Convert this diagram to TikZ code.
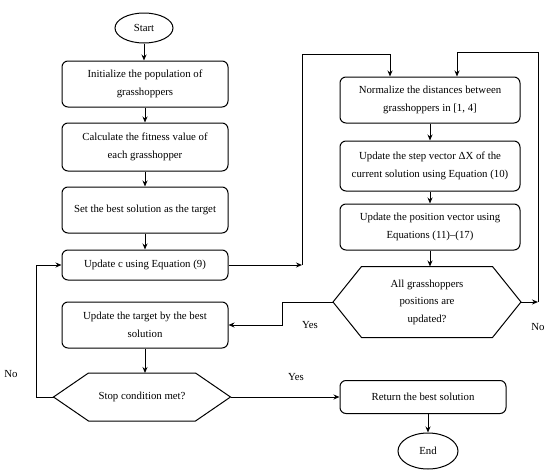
\documentclass[tikz,border=0pt]{standalone}
\usepackage{fontspec}
\setmainfont{Liberation Serif}
\usetikzlibrary{positioning,shapes,arrows,arrows.meta}

\tikzset{
  every box/.style={draw, rounded corners=6pt, align=center, inner sep=2pt,
    font=\fontsize{10.8}{18}\selectfont},
  every hex/.style={align=center, inner sep=0pt, font=\fontsize{10.8}{17.5}\selectfont},
  every term/.style={draw, ellipse, inner sep=0pt, font=\fontsize{10.8}{12}\selectfont},
  every label/.style={font=\fontsize{10.8}{12}\selectfont}
}

\begin{document}
\begin{tikzpicture}[x=1pt, y=-1pt, line width=1pt, >={Stealth[length=6pt,width=5pt]}]
    \useasboundingbox (0,0) rectangle (550,474);

    \node [every term/.try, minimum width=58pt, minimum height=30pt] (start) at (144,28) {Start};

    \foreach \t/\y/\h [count=\i] in {{Initialize the population of\\grasshoppers}/84/46,
        {Calculate the fitness value of\\each grasshopper}/147/48,
        {Set the best solution as the target}/210/46,
        {Update c using Equation (9)}/265/30,
        {Update the target by the best\\solution}/325/46}
      \node [every box/.try, minimum width=166pt, minimum height=\h pt] (left-\i) at (145,\y) {\t};

    \foreach \t/\y/\h [count=\i] in {{Normalize the distances between\\grasshoppers in [1, 4]}/100/46,
        {Update the step vector ΔX of the\\current solution using Equation (10)}/166/50,
        {Update the position vector using\\Equations (11)–(17)}/227/46}
      \node [every box/.try, minimum width=180pt, minimum height=\h pt] (right-\i) at (430,\y) {\t};

    \node [every hex/.try, minimum width=176pt, minimum height=47pt] (stop) at (142,397) {Stop condition met?};
    \node [every hex/.try, minimum width=187pt, minimum height=70pt] (all) at (427,302)
      {All grasshoppers\\positions are\\updated?};

    \node [every box/.try, minimum width=166pt, minimum height=33pt] (return) at (423,397) {Return the best solution};
    \node [every term/.try, minimum width=60pt, minimum height=36pt] (end) at (428,451) {End};

    \draw (stop.west) -- ([xshift=35pt]stop.north west) -- ([xshift=-35pt]stop.north east)
      -- (stop.east) -- ([xshift=-35pt]stop.south east) -- ([xshift=35pt]stop.south west) -- cycle;
    \draw (all.west) -- ([xshift=28.5pt]all.north west) -- ([xshift=-28.5pt]all.north east)
      -- (all.east) -- ([xshift=-28.5pt]all.south east) -- ([xshift=28.5pt]all.south west) -- cycle;

    \draw [->] (start) -- (start |- left-1.north);
    \foreach \i [count=\j from 2] in {1,...,3}
      \draw [->] (left-\i) -- (left-\j);
    \draw [->] (left-5.south) -- (left-5.south |- stop.north);

    \foreach \i [count=\j from 2] in {1,2}
      \draw [->] (right-\i) -- (right-\j);
    \draw [->] (right-3) -- (right-3 |- all.north);
    \draw [->] (return.south -| end) -- (end);

    \coordinate (turn-c) at (302,265);
    \coordinate (top-c) at (390,54);
    \draw [->] (left-4.east) -- (turn-c);
    \draw [->] (turn-c) |- (top-c) -- (top-c |- right-1.north);

    \coordinate (turn-no) at (538,302);
    \coordinate (top-no) at (457,52);
    \draw [->] (all.east) -- (turn-no);
    \draw [->] (turn-no) |- (top-no) -- (top-no |- right-1.north);

    \coordinate (turn-yes) at (282,325);
    \draw [->] (all.west) -| (turn-yes) -- (left-5.east);

    \coordinate (turn-stop) at (36,397);
    \draw [->] (stop.west) -- (turn-stop) |- (left-4.west);
    \draw [->] (stop.east) -- (return.west);

    \node [every label/.try] (no-stop) at (11,374) {No};
    \node [every label/.try] (yes-stop) at (296,377) {Yes};
    \node [every label/.try] (yes-all) at (310,325) {Yes};
    \node [every label/.try] (no-all) at (538,327) {No};
\end{tikzpicture}
\end{document}
